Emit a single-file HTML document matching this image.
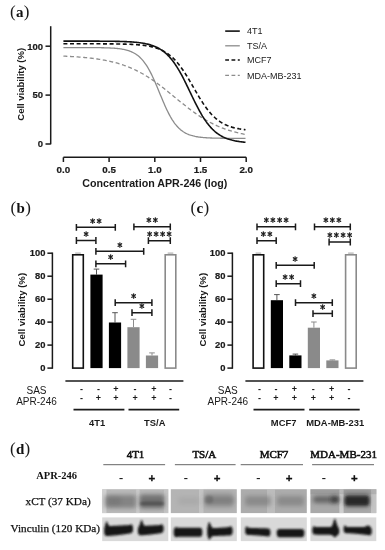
<!DOCTYPE html><html><head><meta charset="utf-8"><title>Figure</title><style>
html,body{margin:0;padding:0;background:#fff;overflow:hidden}svg{display:block}
.s{font-family:"Liberation Sans",Arial,sans-serif}.r{font-family:"Liberation Serif","Times New Roman",serif}
</style></head><body>
<svg width="385" height="550" viewBox="0 0 385 550">
<rect width="385" height="550" fill="#fff"/>
<text class="r" x="10.0" y="17.2" font-size="17" fill="#1a1a1a">(<tspan font-size="15" font-weight="bold" fill="#111" dx="0.3">a</tspan><tspan dx="0.3">)</tspan></text>
<g stroke="#1a1a1a" stroke-width="1.5" fill="none">
<path d="M50.7 26.2V144.3"/>
<path d="M45.5 46.2H50.7"/>
<path d="M45.5 95.1H50.7"/>
<path d="M45.5 144.0H50.7"/>
<path d="M63.4 157.3H246.2"/>
<path d="M63.4 157.3V162"/>
<path d="M109.1 157.3V162"/>
<path d="M154.8 157.3V162"/>
<path d="M200.5 157.3V162"/>
<path d="M246.2 157.3V162"/>
</g>
<g class="s" font-size="9.5" font-weight="bold" fill="#1a1a1a" stroke="#1a1a1a" stroke-width="0.2" text-anchor="end">
<text x="43.1" y="49.5">100</text>
<text x="43.1" y="98.4">50</text>
<text x="43.1" y="147.3">0</text>
</g>
<g class="s" font-size="9.8" font-weight="bold" fill="#1a1a1a" stroke="#1a1a1a" stroke-width="0.2" text-anchor="middle">
<text x="63.4" y="173.2">0.0</text>
<text x="109.1" y="173.2">0.5</text>
<text x="154.8" y="173.2">1.0</text>
<text x="200.5" y="173.2">1.5</text>
<text x="246.2" y="173.2">2.0</text>
</g>
<text class="s" x="154.8" y="187.4" font-size="10.7" font-weight="bold" fill="#1a1a1a" text-anchor="middle">Concentration APR-246 (log)</text>
<text class="s" transform="translate(24.4 84.3) rotate(-90)" font-size="9.5" font-weight="bold" fill="#1a1a1a" text-anchor="middle">Cell viability (%)</text>
<path d="M63.40 56.14 L64.32 56.18 L65.23 56.22 L66.15 56.26 L67.06 56.31 L67.98 56.35 L68.89 56.40 L69.81 56.45 L70.72 56.50 L71.64 56.55 L72.55 56.60 L73.47 56.66 L74.38 56.71 L75.30 56.77 L76.21 56.83 L77.13 56.90 L78.04 56.96 L78.96 57.03 L79.87 57.10 L80.79 57.17 L81.70 57.25 L82.62 57.33 L83.53 57.41 L84.45 57.49 L85.36 57.58 L86.28 57.66 L87.19 57.76 L88.11 57.85 L89.02 57.95 L89.94 58.05 L90.85 58.16 L91.77 58.26 L92.68 58.38 L93.60 58.49 L94.51 58.61 L95.43 58.73 L96.34 58.86 L97.26 58.99 L98.17 59.13 L99.09 59.27 L100.00 59.41 L100.92 59.56 L101.83 59.72 L102.75 59.88 L103.66 60.04 L104.58 60.21 L105.49 60.39 L106.41 60.57 L107.32 60.76 L108.24 60.95 L109.15 61.15 L110.07 61.35 L110.98 61.56 L111.90 61.78 L112.81 62.00 L113.73 62.23 L114.64 62.47 L115.56 62.71 L116.47 62.96 L117.39 63.22 L118.30 63.49 L119.22 63.76 L120.13 64.05 L121.05 64.34 L121.96 64.63 L122.88 64.94 L123.79 65.25 L124.71 65.58 L125.63 65.91 L126.54 66.25 L127.46 66.60 L128.37 66.96 L129.29 67.33 L130.20 67.71 L131.12 68.09 L132.03 68.49 L132.95 68.90 L133.86 69.31 L134.78 69.74 L135.69 70.18 L136.61 70.62 L137.52 71.08 L138.44 71.55 L139.35 72.02 L140.27 72.51 L141.18 73.01 L142.10 73.52 L143.01 74.04 L143.93 74.56 L144.84 75.10 L145.76 75.65 L146.67 76.21 L147.59 76.78 L148.50 77.36 L149.42 77.95 L150.33 78.54 L151.25 79.15 L152.16 79.77 L153.08 80.40 L153.99 81.03 L154.91 81.68 L155.82 82.33 L156.74 82.99 L157.65 83.66 L158.57 84.33 L159.48 85.02 L160.40 85.71 L161.31 86.41 L162.23 87.11 L163.14 87.82 L164.06 88.54 L164.97 89.26 L165.89 89.98 L166.80 90.71 L167.72 91.45 L168.63 92.19 L169.55 92.93 L170.46 93.67 L171.38 94.42 L172.29 95.17 L173.21 95.92 L174.12 96.67 L175.04 97.42 L175.95 98.17 L176.87 98.92 L177.78 99.67 L178.70 100.42 L179.61 101.16 L180.53 101.91 L181.44 102.65 L182.36 103.38 L183.27 104.12 L184.19 104.85 L185.11 105.57 L186.02 106.29 L186.94 107.00 L187.85 107.71 L188.77 108.42 L189.68 109.11 L190.60 109.80 L191.51 110.48 L192.43 111.16 L193.34 111.82 L194.26 112.48 L195.17 113.13 L196.09 113.77 L197.00 114.40 L197.92 115.03 L198.83 115.64 L199.75 116.25 L200.66 116.84 L201.58 117.43 L202.49 118.00 L203.41 118.57 L204.32 119.12 L205.24 119.67 L206.15 120.20 L207.07 120.73 L207.98 121.24 L208.90 121.75 L209.81 122.24 L210.73 122.73 L211.64 123.20 L212.56 123.67 L213.47 124.12 L214.39 124.56 L215.30 125.00 L216.22 125.42 L217.13 125.83 L218.05 126.24 L218.96 126.63 L219.88 127.01 L220.79 127.39 L221.71 127.75 L222.62 128.11 L223.54 128.46 L224.45 128.80 L225.37 129.13 L226.28 129.45 L227.20 129.76 L228.11 130.06 L229.03 130.36 L229.94 130.64 L230.86 130.92 L231.77 131.20 L232.69 131.46 L233.60 131.72 L234.52 131.97 L235.43 132.21 L236.35 132.44 L237.26 132.67 L238.18 132.89 L239.09 133.11 L240.01 133.32 L240.92 133.52 L241.84 133.71 L242.75 133.90 L243.67 134.09 L244.58 134.27 L245.50 134.44" fill="none" stroke="#8c8c8c" stroke-width="1.3" stroke-dasharray="4 2.6"/>
<path d="M63.40 47.54 L64.32 47.54 L65.23 47.54 L66.15 47.54 L67.06 47.54 L67.98 47.55 L68.89 47.55 L69.81 47.55 L70.72 47.55 L71.64 47.55 L72.55 47.55 L73.47 47.55 L74.38 47.55 L75.30 47.55 L76.21 47.55 L77.13 47.55 L78.04 47.56 L78.96 47.56 L79.87 47.56 L80.79 47.56 L81.70 47.56 L82.62 47.56 L83.53 47.57 L84.45 47.57 L85.36 47.57 L86.28 47.58 L87.19 47.58 L88.11 47.58 L89.02 47.59 L89.94 47.59 L90.85 47.60 L91.77 47.60 L92.68 47.61 L93.60 47.62 L94.51 47.63 L95.43 47.63 L96.34 47.64 L97.26 47.65 L98.17 47.67 L99.09 47.68 L100.00 47.69 L100.92 47.71 L101.83 47.73 L102.75 47.75 L103.66 47.77 L104.58 47.79 L105.49 47.81 L106.41 47.84 L107.32 47.87 L108.24 47.91 L109.15 47.95 L110.07 47.99 L110.98 48.03 L111.90 48.08 L112.81 48.14 L113.73 48.20 L114.64 48.27 L115.56 48.34 L116.47 48.42 L117.39 48.52 L118.30 48.61 L119.22 48.72 L120.13 48.84 L121.05 48.98 L121.96 49.12 L122.88 49.28 L123.79 49.46 L124.71 49.65 L125.63 49.86 L126.54 50.09 L127.46 50.35 L128.37 50.63 L129.29 50.93 L130.20 51.27 L131.12 51.64 L132.03 52.04 L132.95 52.48 L133.86 52.95 L134.78 53.48 L135.69 54.04 L136.61 54.66 L137.52 55.33 L138.44 56.06 L139.35 56.85 L140.27 57.70 L141.18 58.62 L142.10 59.61 L143.01 60.67 L143.93 61.81 L144.84 63.03 L145.76 64.33 L146.67 65.72 L147.59 67.19 L148.50 68.74 L149.42 70.37 L150.33 72.09 L151.25 73.89 L152.16 75.76 L153.08 77.70 L153.99 79.71 L154.91 81.77 L155.82 83.89 L156.74 86.05 L157.65 88.24 L158.57 90.45 L159.48 92.67 L160.40 94.90 L161.31 97.12 L162.23 99.31 L163.14 101.48 L164.06 103.61 L164.97 105.69 L165.89 107.71 L166.80 109.67 L167.72 111.56 L168.63 113.37 L169.55 115.11 L170.46 116.76 L171.38 118.34 L172.29 119.83 L173.21 121.23 L174.12 122.55 L175.04 123.79 L175.95 124.95 L176.87 126.03 L177.78 127.04 L178.70 127.98 L179.61 128.85 L180.53 129.65 L181.44 130.39 L182.36 131.08 L183.27 131.71 L184.19 132.29 L185.11 132.82 L186.02 133.31 L186.94 133.76 L187.85 134.17 L188.77 134.54 L189.68 134.88 L190.60 135.20 L191.51 135.48 L192.43 135.74 L193.34 135.98 L194.26 136.20 L195.17 136.40 L196.09 136.58 L197.00 136.74 L197.92 136.89 L198.83 137.02 L199.75 137.15 L200.66 137.26 L201.58 137.36 L202.49 137.45 L203.41 137.54 L204.32 137.61 L205.24 137.68 L206.15 137.74 L207.07 137.80 L207.98 137.85 L208.90 137.90 L209.81 137.94 L210.73 137.98 L211.64 138.02 L212.56 138.05 L213.47 138.08 L214.39 138.10 L215.30 138.13 L216.22 138.15 L217.13 138.17 L218.05 138.19 L218.96 138.20 L219.88 138.22 L220.79 138.23 L221.71 138.24 L222.62 138.25 L223.54 138.26 L224.45 138.27 L225.37 138.28 L226.28 138.29 L227.20 138.29 L228.11 138.30 L229.03 138.30 L229.94 138.31 L230.86 138.31 L231.77 138.32 L232.69 138.32 L233.60 138.33 L234.52 138.33 L235.43 138.33 L236.35 138.33 L237.26 138.34 L238.18 138.34 L239.09 138.34 L240.01 138.34 L240.92 138.34 L241.84 138.34 L242.75 138.35 L243.67 138.35 L244.58 138.35 L245.50 138.35" fill="none" stroke="#8c8c8c" stroke-width="1.3"/>
<path d="M63.40 43.77 L64.32 43.77 L65.23 43.77 L66.15 43.77 L67.06 43.77 L67.98 43.77 L68.89 43.77 L69.81 43.77 L70.72 43.77 L71.64 43.77 L72.55 43.77 L73.47 43.77 L74.38 43.78 L75.30 43.78 L76.21 43.78 L77.13 43.78 L78.04 43.78 L78.96 43.78 L79.87 43.78 L80.79 43.78 L81.70 43.78 L82.62 43.78 L83.53 43.78 L84.45 43.78 L85.36 43.78 L86.28 43.79 L87.19 43.79 L88.11 43.79 L89.02 43.79 L89.94 43.79 L90.85 43.79 L91.77 43.79 L92.68 43.80 L93.60 43.80 L94.51 43.80 L95.43 43.80 L96.34 43.81 L97.26 43.81 L98.17 43.81 L99.09 43.82 L100.00 43.82 L100.92 43.82 L101.83 43.83 L102.75 43.83 L103.66 43.84 L104.58 43.84 L105.49 43.85 L106.41 43.85 L107.32 43.86 L108.24 43.87 L109.15 43.87 L110.07 43.88 L110.98 43.89 L111.90 43.90 L112.81 43.91 L113.73 43.92 L114.64 43.93 L115.56 43.94 L116.47 43.96 L117.39 43.97 L118.30 43.98 L119.22 44.00 L120.13 44.02 L121.05 44.04 L121.96 44.06 L122.88 44.08 L123.79 44.10 L124.71 44.13 L125.63 44.15 L126.54 44.18 L127.46 44.22 L128.37 44.25 L129.29 44.28 L130.20 44.32 L131.12 44.37 L132.03 44.41 L132.95 44.46 L133.86 44.51 L134.78 44.57 L135.69 44.63 L136.61 44.69 L137.52 44.76 L138.44 44.83 L139.35 44.91 L140.27 45.00 L141.18 45.09 L142.10 45.19 L143.01 45.29 L143.93 45.41 L144.84 45.53 L145.76 45.66 L146.67 45.80 L147.59 45.95 L148.50 46.11 L149.42 46.28 L150.33 46.47 L151.25 46.67 L152.16 46.88 L153.08 47.10 L153.99 47.35 L154.91 47.61 L155.82 47.88 L156.74 48.18 L157.65 48.50 L158.57 48.83 L159.48 49.19 L160.40 49.58 L161.31 49.99 L162.23 50.42 L163.14 50.88 L164.06 51.37 L164.97 51.90 L165.89 52.45 L166.80 53.04 L167.72 53.66 L168.63 54.32 L169.55 55.02 L170.46 55.75 L171.38 56.53 L172.29 57.35 L173.21 58.20 L174.12 59.11 L175.04 60.05 L175.95 61.04 L176.87 62.07 L177.78 63.15 L178.70 64.28 L179.61 65.44 L180.53 66.66 L181.44 67.91 L182.36 69.21 L183.27 70.54 L184.19 71.92 L185.11 73.33 L186.02 74.77 L186.94 76.24 L187.85 77.75 L188.77 79.27 L189.68 80.82 L190.60 82.39 L191.51 83.97 L192.43 85.55 L193.34 87.14 L194.26 88.74 L195.17 90.33 L196.09 91.91 L197.00 93.48 L197.92 95.03 L198.83 96.57 L199.75 98.08 L200.66 99.56 L201.58 101.02 L202.49 102.44 L203.41 103.82 L204.32 105.17 L205.24 106.48 L206.15 107.75 L207.07 108.98 L207.98 110.16 L208.90 111.30 L209.81 112.39 L210.73 113.44 L211.64 114.44 L212.56 115.40 L213.47 116.32 L214.39 117.19 L215.30 118.02 L216.22 118.81 L217.13 119.56 L218.05 120.27 L218.96 120.94 L219.88 121.57 L220.79 122.17 L221.71 122.74 L222.62 123.27 L223.54 123.77 L224.45 124.24 L225.37 124.69 L226.28 125.10 L227.20 125.50 L228.11 125.86 L229.03 126.21 L229.94 126.53 L230.86 126.83 L231.77 127.12 L232.69 127.38 L233.60 127.63 L234.52 127.86 L235.43 128.08 L236.35 128.28 L237.26 128.47 L238.18 128.64 L239.09 128.81 L240.01 128.96 L240.92 129.11 L241.84 129.24 L242.75 129.36 L243.67 129.48 L244.58 129.59 L245.50 129.69" fill="none" stroke="#111" stroke-width="1.6" stroke-dasharray="4 2.6"/>
<path d="M63.40 41.12 L64.32 41.12 L65.23 41.12 L66.15 41.12 L67.06 41.12 L67.98 41.12 L68.89 41.12 L69.81 41.12 L70.72 41.12 L71.64 41.12 L72.55 41.12 L73.47 41.12 L74.38 41.12 L75.30 41.12 L76.21 41.12 L77.13 41.12 L78.04 41.12 L78.96 41.12 L79.87 41.12 L80.79 41.13 L81.70 41.13 L82.62 41.13 L83.53 41.13 L84.45 41.13 L85.36 41.13 L86.28 41.13 L87.19 41.13 L88.11 41.14 L89.02 41.14 L89.94 41.14 L90.85 41.14 L91.77 41.14 L92.68 41.15 L93.60 41.15 L94.51 41.15 L95.43 41.16 L96.34 41.16 L97.26 41.16 L98.17 41.17 L99.09 41.17 L100.00 41.18 L100.92 41.18 L101.83 41.19 L102.75 41.19 L103.66 41.20 L104.58 41.20 L105.49 41.21 L106.41 41.22 L107.32 41.23 L108.24 41.24 L109.15 41.25 L110.07 41.26 L110.98 41.27 L111.90 41.28 L112.81 41.29 L113.73 41.31 L114.64 41.32 L115.56 41.34 L116.47 41.36 L117.39 41.37 L118.30 41.40 L119.22 41.42 L120.13 41.44 L121.05 41.47 L121.96 41.49 L122.88 41.52 L123.79 41.56 L124.71 41.59 L125.63 41.63 L126.54 41.67 L127.46 41.71 L128.37 41.76 L129.29 41.81 L130.20 41.86 L131.12 41.92 L132.03 41.98 L132.95 42.05 L133.86 42.12 L134.78 42.19 L135.69 42.28 L136.61 42.37 L137.52 42.46 L138.44 42.57 L139.35 42.68 L140.27 42.80 L141.18 42.93 L142.10 43.07 L143.01 43.22 L143.93 43.38 L144.84 43.55 L145.76 43.73 L146.67 43.93 L147.59 44.15 L148.50 44.37 L149.42 44.62 L150.33 44.88 L151.25 45.17 L152.16 45.47 L153.08 45.79 L153.99 46.14 L154.91 46.51 L155.82 46.90 L156.74 47.33 L157.65 47.78 L158.57 48.26 L159.48 48.78 L160.40 49.33 L161.31 49.91 L162.23 50.53 L163.14 51.19 L164.06 51.90 L164.97 52.64 L165.89 53.43 L166.80 54.27 L167.72 55.15 L168.63 56.08 L169.55 57.07 L170.46 58.10 L171.38 59.19 L172.29 60.34 L173.21 61.53 L174.12 62.79 L175.04 64.09 L175.95 65.46 L176.87 66.88 L177.78 68.35 L178.70 69.87 L179.61 71.45 L180.53 73.07 L181.44 74.74 L182.36 76.45 L183.27 78.21 L184.19 80.00 L185.11 81.82 L186.02 83.67 L186.94 85.54 L187.85 87.43 L188.77 89.34 L189.68 91.25 L190.60 93.17 L191.51 95.08 L192.43 96.99 L193.34 98.88 L194.26 100.76 L195.17 102.61 L196.09 104.43 L197.00 106.22 L197.92 107.97 L198.83 109.69 L199.75 111.36 L200.66 112.98 L201.58 114.56 L202.49 116.09 L203.41 117.56 L204.32 118.98 L205.24 120.34 L206.15 121.65 L207.07 122.91 L207.98 124.10 L208.90 125.25 L209.81 126.34 L210.73 127.38 L211.64 128.36 L212.56 129.30 L213.47 130.18 L214.39 131.02 L215.30 131.81 L216.22 132.55 L217.13 133.26 L218.05 133.92 L218.96 134.54 L219.88 135.13 L220.79 135.68 L221.71 136.19 L222.62 136.68 L223.54 137.13 L224.45 137.55 L225.37 137.95 L226.28 138.32 L227.20 138.67 L228.11 138.99 L229.03 139.30 L229.94 139.58 L230.86 139.84 L231.77 140.09 L232.69 140.32 L233.60 140.53 L234.52 140.73 L235.43 140.91 L236.35 141.09 L237.26 141.25 L238.18 141.40 L239.09 141.54 L240.01 141.67 L240.92 141.79 L241.84 141.90 L242.75 142.00 L243.67 142.10 L244.58 142.19 L245.50 142.27" fill="none" stroke="#111" stroke-width="1.6"/>
<path d="M225.2 31.1H239.8" stroke="#111" stroke-width="1.6"/>
<text class="s" x="247" y="34.4" font-size="9" fill="#1a1a1a">4T1</text>
<path d="M225.2 45.8H239.8" stroke="#8c8c8c" stroke-width="1.3"/>
<text class="s" x="247" y="49.1" font-size="9" fill="#1a1a1a">TS/A</text>
<path d="M225.2 60.0H239.8" stroke="#111" stroke-width="1.6" stroke-dasharray="3.8 2.5"/>
<text class="s" x="247" y="63.3" font-size="9" fill="#1a1a1a">MCF7</text>
<path d="M225.2 75.3H239.8" stroke="#8c8c8c" stroke-width="1.3" stroke-dasharray="3.8 2.5"/>
<text class="s" x="247" y="78.6" font-size="9" fill="#1a1a1a">MDA-MB-231</text>
<text class="r" x="10.6" y="213.4" font-size="17" fill="#1a1a1a">(<tspan font-size="15" font-weight="bold" fill="#111" dx="0.3">b</tspan><tspan dx="0.3">)</tspan></text>
<g stroke="#1a1a1a" stroke-width="1.5" fill="none"><path d="M52.4 252.5V368.8"/>
<path d="M47.4 368.1H52.4"/>
<path d="M47.4 345.1H52.4"/>
<path d="M47.4 322.1H52.4"/>
<path d="M47.4 299.2H52.4"/>
<path d="M47.4 276.2H52.4"/>
<path d="M47.4 253.2H52.4"/>
</g>
<g class="s" font-size="9.4" font-weight="bold" fill="#1a1a1a" stroke="#1a1a1a" stroke-width="0.2" text-anchor="end">
<text x="45.5" y="370.8">0</text>
<text x="45.5" y="347.8">20</text>
<text x="45.5" y="324.8">40</text>
<text x="45.5" y="301.9">60</text>
<text x="45.5" y="278.9">80</text>
<text x="45.5" y="255.9">100</text>
</g>
<text class="s" transform="translate(25.3 309.7) rotate(-90)" font-size="9.6" font-weight="bold" fill="#1a1a1a" text-anchor="middle">Cell viability (%)</text>
<path d="M75.2 253.1H80.8" stroke="#999" stroke-width="0.9" fill="none"/>
<rect x="72.7" y="254.8" width="10.6" height="113.3" fill="#fff" stroke="#111" stroke-width="1.6"/>
<path d="M96.5 274.6V269.1M93.7 269.1H99.3" stroke="#555" stroke-width="1" fill="none"/>
<rect x="90.4" y="274.6" width="12.2" height="93.5" fill="#000"/>
<path d="M115.0 322.5V312.7M112.2 312.7H117.8" stroke="#555" stroke-width="1" fill="none"/>
<rect x="108.9" y="322.5" width="12.2" height="45.6" fill="#000"/>
<path d="M133.5 327.2V319.3M130.7 319.3H136.3" stroke="#8c8c8c" stroke-width="1" fill="none"/>
<rect x="127.4" y="327.2" width="12.2" height="40.9" fill="#8a8a8a"/>
<path d="M152.0 355.5V352.9M149.2 352.9H154.8" stroke="#8c8c8c" stroke-width="1" fill="none"/>
<rect x="145.9" y="355.5" width="12.2" height="12.6" fill="#8a8a8a"/>
<path d="M167.7 253.1H173.3" stroke="#999" stroke-width="0.9" fill="none"/>
<rect x="165.2" y="254.8" width="10.6" height="113.3" fill="#fff" stroke="#8a8a8a" stroke-width="1.6"/>
<path d="M76.4 227.3H115.3M76.4 223.9V230.70000000000002M115.3 223.9V230.70000000000002" stroke="#1a1a1a" stroke-width="1.5" fill="none"/>
<text x="96.5" y="224.5" font-family="IPAGothic, sans-serif" font-size="10.5" font-weight="bold" fill="#1a1a1a" text-anchor="middle" letter-spacing="1.3">**</text>
<path d="M76.4 240.5H95.9M76.4 237.1V243.9M95.9 237.1V243.9" stroke="#1a1a1a" stroke-width="1.5" fill="none"/>
<text x="86.8" y="237.7" font-family="IPAGothic, sans-serif" font-size="10.5" font-weight="bold" fill="#1a1a1a" text-anchor="middle" letter-spacing="1.3">*</text>
<path d="M95.9 251.3H143.7M95.9 247.9V254.70000000000002M143.7 247.9V254.70000000000002" stroke="#1a1a1a" stroke-width="1.5" fill="none"/>
<text x="120.5" y="248.5" font-family="IPAGothic, sans-serif" font-size="10.5" font-weight="bold" fill="#1a1a1a" text-anchor="middle" letter-spacing="1.3">*</text>
<path d="M95.9 263.8H125.6M95.9 260.40000000000003V267.2M125.6 260.40000000000003V267.2" stroke="#1a1a1a" stroke-width="1.5" fill="none"/>
<text x="111.4" y="261.0" font-family="IPAGothic, sans-serif" font-size="10.5" font-weight="bold" fill="#1a1a1a" text-anchor="middle" letter-spacing="1.3">*</text>
<path d="M133.9 226.8H170.3M133.9 223.4V230.20000000000002M170.3 223.4V230.20000000000002" stroke="#1a1a1a" stroke-width="1.5" fill="none"/>
<text x="152.8" y="224.0" font-family="IPAGothic, sans-serif" font-size="10.5" font-weight="bold" fill="#1a1a1a" text-anchor="middle" letter-spacing="1.3">**</text>
<path d="M148.4 240.7H170.3M148.4 237.29999999999998V244.1M170.3 237.29999999999998V244.1" stroke="#1a1a1a" stroke-width="1.5" fill="none"/>
<text x="160.0" y="237.9" font-family="IPAGothic, sans-serif" font-size="10.5" font-weight="bold" fill="#1a1a1a" text-anchor="middle" letter-spacing="1.3">****</text>
<path d="M115.2 302.7H151.9M115.2 299.3V306.09999999999997M151.9 299.3V306.09999999999997" stroke="#1a1a1a" stroke-width="1.5" fill="none"/>
<text x="134.2" y="299.9" font-family="IPAGothic, sans-serif" font-size="10.5" font-weight="bold" fill="#1a1a1a" text-anchor="middle" letter-spacing="1.3">*</text>
<path d="M132 312.7H151.9M132 309.3V316.09999999999997M151.9 309.3V316.09999999999997" stroke="#1a1a1a" stroke-width="1.5" fill="none"/>
<text x="142.6" y="309.9" font-family="IPAGothic, sans-serif" font-size="10.5" font-weight="bold" fill="#1a1a1a" text-anchor="middle" letter-spacing="1.3">*</text>
<path d="M65.4 381H183.4" stroke="#1a1a1a" stroke-width="1.6"/>
<text class="s" x="36.5" y="393.6" font-size="10" fill="#1a1a1a" text-anchor="middle">SAS</text>
<text class="s" x="36.5" y="405" font-size="10" fill="#1a1a1a" text-anchor="middle">APR-246</text>
<text class="s" x="81.5" y="392.4" font-size="9" font-weight="bold" fill="#1a1a1a" text-anchor="middle">-</text>
<text class="s" x="81.5" y="401" font-size="9" font-weight="bold" fill="#1a1a1a" text-anchor="middle">-</text>
<text class="s" x="98.4" y="392.4" font-size="9" font-weight="bold" fill="#1a1a1a" text-anchor="middle">-</text>
<text class="s" x="98.4" y="401" font-size="9" font-weight="bold" fill="#1a1a1a" text-anchor="middle">+</text>
<text class="s" x="115.8" y="392.4" font-size="9" font-weight="bold" fill="#1a1a1a" text-anchor="middle">+</text>
<text class="s" x="115.8" y="401" font-size="9" font-weight="bold" fill="#1a1a1a" text-anchor="middle">+</text>
<text class="s" x="135.1" y="392.4" font-size="9" font-weight="bold" fill="#1a1a1a" text-anchor="middle">-</text>
<text class="s" x="135.1" y="401" font-size="9" font-weight="bold" fill="#1a1a1a" text-anchor="middle">+</text>
<text class="s" x="153.8" y="392.4" font-size="9" font-weight="bold" fill="#1a1a1a" text-anchor="middle">+</text>
<text class="s" x="153.8" y="401" font-size="9" font-weight="bold" fill="#1a1a1a" text-anchor="middle">+</text>
<text class="s" x="170.4" y="392.4" font-size="9" font-weight="bold" fill="#1a1a1a" text-anchor="middle">-</text>
<text class="s" x="170.4" y="401" font-size="9" font-weight="bold" fill="#1a1a1a" text-anchor="middle">-</text>
<path d="M73.5 409.6H124.4" stroke="#1a1a1a" stroke-width="1.6"/>
<text class="s" x="97.2" y="426.3" font-size="9.4" font-weight="bold" fill="#1a1a1a" text-anchor="middle">4T1</text>
<path d="M128.5 409.6H179.2" stroke="#1a1a1a" stroke-width="1.6"/>
<text class="s" x="154.8" y="426.3" font-size="9.4" font-weight="bold" fill="#1a1a1a" text-anchor="middle">TS/A</text>
<text class="r" x="190.6" y="213.4" font-size="17" fill="#1a1a1a">(<tspan font-size="15" font-weight="bold" fill="#111" dx="0.3">c</tspan><tspan dx="0.3">)</tspan></text>
<g stroke="#1a1a1a" stroke-width="1.5" fill="none"><path d="M232.4 252.5V368.8"/>
<path d="M227.4 368.1H232.4"/>
<path d="M227.4 345.1H232.4"/>
<path d="M227.4 322.1H232.4"/>
<path d="M227.4 299.2H232.4"/>
<path d="M227.4 276.2H232.4"/>
<path d="M227.4 253.2H232.4"/>
</g>
<g class="s" font-size="9.4" font-weight="bold" fill="#1a1a1a" stroke="#1a1a1a" stroke-width="0.2" text-anchor="end">
<text x="225.5" y="370.8">0</text>
<text x="225.5" y="347.8">20</text>
<text x="225.5" y="324.8">40</text>
<text x="225.5" y="301.9">60</text>
<text x="225.5" y="278.9">80</text>
<text x="225.5" y="255.9">100</text>
</g>
<text class="s" transform="translate(206.2 309.7) rotate(-90)" font-size="9.6" font-weight="bold" fill="#1a1a1a" text-anchor="middle">Cell viability (%)</text>
<path d="M255.6 253.1H261.2" stroke="#999" stroke-width="0.9" fill="none"/>
<rect x="253.1" y="254.8" width="10.6" height="113.3" fill="#fff" stroke="#111" stroke-width="1.6"/>
<path d="M276.9 300.2V294.6M274.1 294.6H279.7" stroke="#555" stroke-width="1" fill="none"/>
<rect x="270.8" y="300.2" width="12.2" height="67.9" fill="#000"/>
<path d="M295.4 355.4V354.1M292.6 354.1H298.2" stroke="#555" stroke-width="1" fill="none"/>
<rect x="289.3" y="355.4" width="12.2" height="12.7" fill="#000"/>
<path d="M313.9 327.7V322.0M311.1 322.0H316.7" stroke="#8c8c8c" stroke-width="1" fill="none"/>
<rect x="307.8" y="327.7" width="12.2" height="40.4" fill="#8a8a8a"/>
<path d="M332.4 360.4V359.9M329.6 359.9H335.2" stroke="#8c8c8c" stroke-width="1" fill="none"/>
<rect x="326.3" y="360.4" width="12.2" height="7.7" fill="#8a8a8a"/>
<path d="M348.1 253.1H353.7" stroke="#999" stroke-width="0.9" fill="none"/>
<rect x="345.6" y="254.8" width="10.6" height="113.3" fill="#fff" stroke="#8a8a8a" stroke-width="1.6"/>
<path d="M257 226.8H295.5M257 223.4V230.20000000000002M295.5 223.4V230.20000000000002" stroke="#1a1a1a" stroke-width="1.5" fill="none"/>
<text x="276.9" y="224.0" font-family="IPAGothic, sans-serif" font-size="10.5" font-weight="bold" fill="#1a1a1a" text-anchor="middle" letter-spacing="1.3">****</text>
<path d="M257 240.7H276.2M257 237.29999999999998V244.1M276.2 237.29999999999998V244.1" stroke="#1a1a1a" stroke-width="1.5" fill="none"/>
<text x="267.2" y="237.9" font-family="IPAGothic, sans-serif" font-size="10.5" font-weight="bold" fill="#1a1a1a" text-anchor="middle" letter-spacing="1.3">**</text>
<path d="M276.2 265.3H314.2M276.2 261.90000000000003V268.7M314.2 261.90000000000003V268.7" stroke="#1a1a1a" stroke-width="1.5" fill="none"/>
<text x="295.8" y="262.5" font-family="IPAGothic, sans-serif" font-size="10.5" font-weight="bold" fill="#1a1a1a" text-anchor="middle" letter-spacing="1.3">*</text>
<path d="M276.2 283.7H300.5M276.2 280.3V287.09999999999997M300.5 280.3V287.09999999999997" stroke="#1a1a1a" stroke-width="1.5" fill="none"/>
<text x="289.0" y="280.9" font-family="IPAGothic, sans-serif" font-size="10.5" font-weight="bold" fill="#1a1a1a" text-anchor="middle" letter-spacing="1.3">**</text>
<path d="M314.5 226.8H350.3M314.5 223.4V230.20000000000002M350.3 223.4V230.20000000000002" stroke="#1a1a1a" stroke-width="1.5" fill="none"/>
<text x="333.0" y="224.0" font-family="IPAGothic, sans-serif" font-size="10.5" font-weight="bold" fill="#1a1a1a" text-anchor="middle" letter-spacing="1.3">***</text>
<path d="M329.1 242H350.3M329.1 238.6V245.4M350.3 238.6V245.4" stroke="#1a1a1a" stroke-width="1.5" fill="none"/>
<text x="340.4" y="239.2" font-family="IPAGothic, sans-serif" font-size="10.5" font-weight="bold" fill="#1a1a1a" text-anchor="middle" letter-spacing="1.3">****</text>
<path d="M295.5 302.7H332.3M295.5 299.3V306.09999999999997M332.3 299.3V306.09999999999997" stroke="#1a1a1a" stroke-width="1.5" fill="none"/>
<text x="314.5" y="299.9" font-family="IPAGothic, sans-serif" font-size="10.5" font-weight="bold" fill="#1a1a1a" text-anchor="middle" letter-spacing="1.3">*</text>
<path d="M313 313.6H332.3M313 310.20000000000005V317.0M332.3 310.20000000000005V317.0" stroke="#1a1a1a" stroke-width="1.5" fill="none"/>
<text x="323.3" y="310.8" font-family="IPAGothic, sans-serif" font-size="10.5" font-weight="bold" fill="#1a1a1a" text-anchor="middle" letter-spacing="1.3">*</text>
<path d="M245.4 381H363.4" stroke="#1a1a1a" stroke-width="1.6"/>
<text class="s" x="227.8" y="393.6" font-size="10" fill="#1a1a1a" text-anchor="middle">SAS</text>
<text class="s" x="227.8" y="405" font-size="10" fill="#1a1a1a" text-anchor="middle">APR-246</text>
<text class="s" x="259.4" y="392.4" font-size="9" font-weight="bold" fill="#1a1a1a" text-anchor="middle">-</text>
<text class="s" x="259.4" y="401" font-size="9" font-weight="bold" fill="#1a1a1a" text-anchor="middle">-</text>
<text class="s" x="275.9" y="392.4" font-size="9" font-weight="bold" fill="#1a1a1a" text-anchor="middle">-</text>
<text class="s" x="275.9" y="401" font-size="9" font-weight="bold" fill="#1a1a1a" text-anchor="middle">+</text>
<text class="s" x="294.3" y="392.4" font-size="9" font-weight="bold" fill="#1a1a1a" text-anchor="middle">+</text>
<text class="s" x="294.3" y="401" font-size="9" font-weight="bold" fill="#1a1a1a" text-anchor="middle">+</text>
<text class="s" x="313.3" y="392.4" font-size="9" font-weight="bold" fill="#1a1a1a" text-anchor="middle">-</text>
<text class="s" x="313.3" y="401" font-size="9" font-weight="bold" fill="#1a1a1a" text-anchor="middle">+</text>
<text class="s" x="331.7" y="392.4" font-size="9" font-weight="bold" fill="#1a1a1a" text-anchor="middle">+</text>
<text class="s" x="331.7" y="401" font-size="9" font-weight="bold" fill="#1a1a1a" text-anchor="middle">+</text>
<text class="s" x="349.1" y="392.4" font-size="9" font-weight="bold" fill="#1a1a1a" text-anchor="middle">-</text>
<text class="s" x="349.1" y="401" font-size="9" font-weight="bold" fill="#1a1a1a" text-anchor="middle">-</text>
<path d="M253.5 409.6H304.5" stroke="#1a1a1a" stroke-width="1.6"/>
<text class="s" x="283.6" y="426.3" font-size="9.4" font-weight="bold" fill="#1a1a1a" text-anchor="middle">MCF7</text>
<path d="M309.2 409.6H359.7" stroke="#1a1a1a" stroke-width="1.6"/>
<text class="s" x="335.2" y="426.3" font-size="9.4" font-weight="bold" fill="#1a1a1a" text-anchor="middle">MDA-MB-231</text>
<text class="r" x="10.0" y="454.1" font-size="17" fill="#1a1a1a">(<tspan font-size="15" font-weight="bold" fill="#111" dx="0.3">d</tspan><tspan dx="0.3">)</tspan></text>
<text class="r" x="135.5" y="458.4" font-size="11" fill="#111" stroke="#111" stroke-width="0.55" text-anchor="middle">4T1</text>
<path d="M103.3 464.7H165.1" stroke="#555" stroke-width="0.9"/>
<text class="r" x="204.3" y="458.4" font-size="11" fill="#111" stroke="#111" stroke-width="0.55" text-anchor="middle">TS/A</text>
<path d="M174.9 464.7H235.6" stroke="#555" stroke-width="0.9"/>
<text class="r" x="274" y="458.4" font-size="11" fill="#111" stroke="#111" stroke-width="0.55" text-anchor="middle">MCF7</text>
<path d="M240.7 464.7H303" stroke="#555" stroke-width="0.9"/>
<text class="r" x="343.6" y="458.4" font-size="11" fill="#111" stroke="#111" stroke-width="0.55" text-anchor="middle">MDA-MB-231</text>
<path d="M312.1 464.7H374" stroke="#555" stroke-width="0.9"/>
<text class="r" x="56.6" y="479.4" font-size="10.5" font-weight="bold" fill="#111" text-anchor="middle">APR-246</text>
<text class="r" x="121" y="482.2" font-size="12.5" font-weight="bold" fill="#111" text-anchor="middle">-</text>
<text class="s" x="151.79999999999998" y="482.4" font-size="11.5" font-weight="bold" fill="#111" stroke="#111" stroke-width="0.3" text-anchor="middle">+</text>
<text class="r" x="185.8" y="482.2" font-size="12.5" font-weight="bold" fill="#111" text-anchor="middle">-</text>
<text class="s" x="217.2" y="482.4" font-size="11.5" font-weight="bold" fill="#111" stroke="#111" stroke-width="0.3" text-anchor="middle">+</text>
<text class="r" x="258.4" y="482.2" font-size="12.5" font-weight="bold" fill="#111" text-anchor="middle">-</text>
<text class="s" x="289.2" y="482.4" font-size="11.5" font-weight="bold" fill="#111" stroke="#111" stroke-width="0.3" text-anchor="middle">+</text>
<text class="r" x="323.8" y="482.2" font-size="12.5" font-weight="bold" fill="#111" text-anchor="middle">-</text>
<text class="s" x="354.3" y="482.4" font-size="11.5" font-weight="bold" fill="#111" stroke="#111" stroke-width="0.3" text-anchor="middle">+</text>
<text class="r" x="58.1" y="505.2" font-size="11.2" fill="#111" stroke="#111" stroke-width="0.25" text-anchor="middle">xCT (37 KDa)</text>
<text class="r" x="55.3" y="531.6" font-size="11.2" fill="#111" stroke="#111" stroke-width="0.25" text-anchor="middle">Vinculin (120 KDa)</text>
<defs><filter id="bl" x="-30%" y="-80%" width="160%" height="260%"><feGaussianBlur stdDeviation="2"/></filter><filter id="bl5" x="-30%" y="-80%" width="160%" height="260%"><feGaussianBlur stdDeviation="1.7"/></filter><filter id="bl3" x="-30%" y="-80%" width="160%" height="260%"><feGaussianBlur stdDeviation="1.3"/></filter><filter id="bl2" x="-20%" y="-50%" width="140%" height="200%"><feGaussianBlur stdDeviation="0.55"/></filter><filter id="bl4" x="-20%" y="-50%" width="140%" height="200%"><feGaussianBlur stdDeviation="0.85"/></filter></defs>
<rect x="102.2" y="489.2" width="66.1" height="23.9" fill="#b9b9b9"/>
<rect x="170.8" y="489.2" width="66.0" height="23.9" fill="#b4b4b4"/>
<rect x="240.8" y="489.2" width="66.0" height="23.9" fill="#acacac"/>
<rect x="310.4" y="489.2" width="65.9" height="23.9" fill="#a9a9a9"/>
<rect x="102.2" y="517.4" width="66.1" height="23.7" fill="#d9d9d9"/>
<rect x="170.8" y="517.4" width="66.0" height="23.7" fill="#d9d9d9"/>
<rect x="240.8" y="517.4" width="66.0" height="23.7" fill="#d9d9d9"/>
<rect x="310.4" y="517.4" width="65.9" height="23.7" fill="#d9d9d9"/>
<rect x="102.2" y="489.2" width="4.3" height="23.9" fill="#d6d6d6" opacity="0.8" filter="url(#bl2)"/>
<rect x="136.2" y="489.2" width="3.4" height="23.9" fill="#d0d0d0" opacity="0.7" filter="url(#bl2)"/>
<rect x="164" y="489.2" width="4.3" height="23.9" fill="#cccccc" opacity="0.6" filter="url(#bl2)"/>
<rect x="199" y="489.2" width="4.5" height="23.9" fill="#d0d0d0" opacity="0.6" filter="url(#bl2)"/>
<rect x="267" y="489.2" width="8.0" height="23.9" fill="#c8c8c8" opacity="0.6" filter="url(#bl2)"/>
<rect x="339.4" y="489.2" width="4.2" height="23.9" fill="#d2d2d2" opacity="0.95" filter="url(#bl2)"/>
<rect x="371" y="489.2" width="5.3" height="23.9" fill="#d0d0d0" opacity="0.7" filter="url(#bl2)"/>
<rect x="310.4" y="489.2" width="66" height="5" fill="#888" opacity="0.3" filter="url(#bl2)"/>
<rect x="105" y="495.0" width="31.0" height="13" rx="3" fill="#707070" opacity="0.72" filter="url(#bl)"/>
<rect x="107" y="497.0" width="14.0" height="8" rx="3" fill="#606060" opacity="0.3" filter="url(#bl)"/>
<rect x="139.5" y="494.5" width="25.0" height="14" rx="3" fill="#5a5a5a" opacity="0.75" filter="url(#bl)"/>
<rect x="140" y="501.5" width="24.0" height="4" rx="3" fill="#333" opacity="0.45" filter="url(#bl3)"/>
<rect x="178" y="497.0" width="22.0" height="8" rx="3" fill="#959595" opacity="0.3" filter="url(#bl)"/>
<rect x="204" y="492.0" width="29.0" height="16" rx="3" fill="#8a8a8a" opacity="0.45" filter="url(#bl)"/>
<rect x="205" y="496.0" width="29.0" height="9" rx="3" fill="#666" opacity="0.55" filter="url(#bl)"/>
<rect x="205" y="495.5" width="8.0" height="8" rx="3" fill="#505050" opacity="0.35" filter="url(#bl3)"/>
<rect x="245" y="496.0" width="26.0" height="10" rx="3" fill="#767676" opacity="0.6" filter="url(#bl)"/>
<rect x="277" y="496.0" width="27.0" height="10" rx="3" fill="#767676" opacity="0.6" filter="url(#bl)"/>
<rect x="313" y="496.0" width="26.0" height="7" rx="3" fill="#4a4a4a" opacity="0.7" filter="url(#bl)"/>
<rect x="331" y="496.0" width="8.0" height="7" rx="3" fill="#1a1a1a" opacity="0.55" filter="url(#bl)"/>
<rect x="344" y="492.5" width="26.0" height="15" rx="3" fill="#444" opacity="0.4" filter="url(#bl)"/>
<rect x="344.8" y="495.8" width="24.4" height="10" rx="3" fill="#1a1a1a" opacity="0.88" filter="url(#bl5)"/>
<g fill="#161616" filter="url(#bl4)">
<path d="M104.20 528.77 L104.69 526.83 L105.18 524.94 L105.66 523.15 L106.15 521.81 L106.64 521.38 L107.13 521.85 L107.62 522.93 L108.11 524.13 L108.59 525.07 L109.08 525.63 L109.57 525.89 L110.06 525.97 L110.55 525.98 L111.03 525.97 L111.52 525.94 L112.01 525.92 L112.50 525.90 L112.99 525.87 L113.47 525.85 L113.96 525.83 L114.45 525.80 L114.94 525.78 L115.43 525.75 L115.92 525.73 L116.40 525.71 L116.89 525.68 L117.38 525.66 L117.87 525.64 L118.36 525.61 L118.84 525.59 L119.33 525.56 L119.82 525.54 L120.31 525.52 L120.80 525.49 L121.28 525.47 L121.77 525.45 L122.26 525.42 L122.75 525.40 L123.24 525.37 L123.73 525.35 L124.21 525.33 L124.70 525.30 L125.19 525.28 L125.68 525.26 L126.17 525.23 L126.65 525.21 L127.14 525.18 L127.63 525.16 L128.12 525.13 L128.61 525.09 L129.09 525.03 L129.58 524.91 L130.07 524.72 L130.56 524.48 L131.05 524.29 L131.54 524.38 L132.02 524.83 L132.51 525.68 L133.00 526.88 L133.00 530.63 L132.51 531.73 L132.02 532.48 L131.54 532.95 L131.05 533.22 L130.56 533.32 L130.07 533.40 L129.58 533.49 L129.09 533.57 L128.61 533.64 L128.12 533.72 L127.63 533.80 L127.14 533.88 L126.65 533.95 L126.17 534.03 L125.68 534.10 L125.19 534.17 L124.70 534.24 L124.21 534.31 L123.73 534.38 L123.24 534.45 L122.75 534.52 L122.26 534.58 L121.77 534.65 L121.28 534.71 L120.80 534.78 L120.31 534.84 L119.82 534.90 L119.33 534.96 L118.84 535.02 L118.36 535.07 L117.87 535.13 L117.38 535.18 L116.89 535.24 L116.40 535.29 L115.92 535.34 L115.43 535.39 L114.94 535.44 L114.45 535.49 L113.96 535.53 L113.47 535.58 L112.99 535.62 L112.50 535.66 L112.01 535.70 L111.52 535.74 L111.03 535.78 L110.55 535.82 L110.06 535.85 L109.57 535.88 L109.08 535.91 L108.59 535.94 L108.11 535.97 L107.62 535.99 L107.13 536.02 L106.64 536.04 L106.15 536.02 L105.66 535.74 L105.18 535.22 L104.69 534.39 L104.20 533.12Z"/>
<path d="M137.90 528.71 L138.34 527.52 L138.77 526.59 L139.21 525.75 L139.64 524.77 L140.08 523.57 L140.51 522.19 L140.95 520.87 L141.38 520.04 L141.82 520.03 L142.26 520.82 L142.69 522.11 L143.13 523.44 L143.56 524.50 L144.00 525.18 L144.43 525.53 L144.87 525.68 L145.31 525.73 L145.74 525.73 L146.18 525.71 L146.61 525.69 L147.05 525.67 L147.48 525.65 L147.92 525.63 L148.35 525.61 L148.79 525.59 L149.23 525.57 L149.66 525.55 L150.10 525.53 L150.53 525.51 L150.97 525.49 L151.40 525.47 L151.84 525.45 L152.27 525.43 L152.71 525.41 L153.15 525.39 L153.58 525.37 L154.02 525.35 L154.45 525.33 L154.89 525.31 L155.32 525.29 L155.76 525.27 L156.19 525.25 L156.63 525.23 L157.07 525.21 L157.50 525.18 L157.94 525.16 L158.37 525.14 L158.81 525.12 L159.24 525.08 L159.68 525.01 L160.12 524.90 L160.55 524.73 L160.99 524.52 L161.42 524.31 L161.86 524.27 L162.29 524.49 L162.73 524.99 L163.16 525.79 L163.60 526.83 L163.60 530.51 L163.16 531.47 L162.73 532.16 L162.29 532.62 L161.86 532.91 L161.42 533.06 L160.99 533.13 L160.55 533.19 L160.12 533.26 L159.68 533.33 L159.24 533.39 L158.81 533.46 L158.37 533.52 L157.94 533.59 L157.50 533.65 L157.07 533.71 L156.63 533.77 L156.19 533.83 L155.76 533.89 L155.32 533.95 L154.89 534.01 L154.45 534.06 L154.02 534.12 L153.58 534.18 L153.15 534.23 L152.71 534.28 L152.27 534.33 L151.84 534.39 L151.40 534.44 L150.97 534.49 L150.53 534.53 L150.10 534.58 L149.66 534.63 L149.23 534.67 L148.79 534.72 L148.35 534.76 L147.92 534.80 L147.48 534.84 L147.05 534.88 L146.61 534.92 L146.18 534.96 L145.74 535.00 L145.31 535.03 L144.87 535.07 L144.43 535.10 L144.00 535.13 L143.56 535.16 L143.13 535.19 L142.69 535.22 L142.26 535.24 L141.82 535.27 L141.38 535.29 L140.95 535.31 L140.51 535.33 L140.08 535.35 L139.64 535.27 L139.21 535.02 L138.77 534.60 L138.34 533.86 L137.90 532.77Z"/>
<path d="M173.70 530.14 L174.18 528.80 L174.67 527.89 L175.15 527.36 L175.64 527.13 L176.12 527.16 L176.61 527.26 L177.09 527.38 L177.58 527.50 L178.06 527.58 L178.55 527.64 L179.03 527.67 L179.52 527.69 L180.00 527.70 L180.49 527.70 L180.97 527.70 L181.46 527.70 L181.94 527.70 L182.43 527.70 L182.91 527.70 L183.39 527.70 L183.88 527.70 L184.36 527.70 L184.85 527.70 L185.33 527.70 L185.82 527.70 L186.30 527.70 L186.79 527.70 L187.27 527.70 L187.76 527.70 L188.24 527.70 L188.73 527.70 L189.21 527.70 L189.70 527.70 L190.18 527.70 L190.67 527.70 L191.15 527.70 L191.64 527.70 L192.12 527.70 L192.61 527.70 L193.09 527.70 L193.57 527.70 L194.06 527.70 L194.54 527.70 L195.03 527.70 L195.51 527.70 L196.00 527.70 L196.48 527.70 L196.97 527.70 L197.45 527.70 L197.94 527.70 L198.42 527.70 L198.91 527.70 L199.39 527.70 L199.88 527.70 L200.36 527.73 L200.85 527.92 L201.33 528.32 L201.82 529.06 L202.30 530.25 L202.30 534.25 L201.82 535.44 L201.33 536.18 L200.85 536.58 L200.36 536.77 L199.88 536.80 L199.39 536.80 L198.91 536.80 L198.42 536.80 L197.94 536.80 L197.45 536.80 L196.97 536.80 L196.48 536.80 L196.00 536.80 L195.51 536.80 L195.03 536.80 L194.54 536.80 L194.06 536.80 L193.57 536.80 L193.09 536.80 L192.61 536.80 L192.12 536.80 L191.64 536.80 L191.15 536.80 L190.67 536.80 L190.18 536.80 L189.70 536.80 L189.21 536.80 L188.73 536.80 L188.24 536.80 L187.76 536.80 L187.27 536.80 L186.79 536.80 L186.30 536.80 L185.82 536.80 L185.33 536.80 L184.85 536.80 L184.36 536.80 L183.88 536.80 L183.39 536.80 L182.91 536.80 L182.43 536.80 L181.94 536.80 L181.46 536.80 L180.97 536.80 L180.49 536.80 L180.00 536.80 L179.52 536.81 L179.03 536.82 L178.55 536.84 L178.06 536.88 L177.58 536.94 L177.09 537.01 L176.61 537.09 L176.12 537.16 L175.64 537.17 L175.15 536.94 L174.67 536.44 L174.18 535.57 L173.70 534.27Z"/>
<path d="M207.20 529.06 L207.63 526.70 L208.06 524.58 L208.49 523.03 L208.92 522.18 L209.35 522.12 L209.78 522.70 L210.21 523.60 L210.64 524.65 L211.07 525.67 L211.51 526.53 L211.94 527.19 L212.37 527.63 L212.80 527.89 L213.23 528.03 L213.66 528.09 L214.09 528.11 L214.52 528.10 L214.95 528.08 L215.38 528.05 L215.81 528.02 L216.24 527.99 L216.67 527.97 L217.10 527.94 L217.53 527.91 L217.96 527.88 L218.39 527.85 L218.82 527.82 L219.25 527.79 L219.68 527.76 L220.12 527.74 L220.55 527.71 L220.98 527.68 L221.41 527.65 L221.84 527.62 L222.27 527.59 L222.70 527.56 L223.13 527.53 L223.56 527.51 L223.99 527.48 L224.42 527.45 L224.85 527.42 L225.28 527.39 L225.71 527.36 L226.14 527.33 L226.57 527.30 L227.00 527.27 L227.43 527.23 L227.86 527.18 L228.29 527.10 L228.73 527.00 L229.16 526.85 L229.59 526.67 L230.02 526.48 L230.45 526.32 L230.88 526.31 L231.31 526.54 L231.74 527.03 L232.17 527.85 L232.60 528.97 L232.60 532.86 L232.17 533.88 L231.74 534.59 L231.31 535.04 L230.88 535.30 L230.45 535.40 L230.02 535.43 L229.59 535.45 L229.16 535.47 L228.73 535.49 L228.29 535.51 L227.86 535.52 L227.43 535.54 L227.00 535.56 L226.57 535.58 L226.14 535.60 L225.71 535.62 L225.28 535.64 L224.85 535.65 L224.42 535.67 L223.99 535.69 L223.56 535.70 L223.13 535.72 L222.70 535.74 L222.27 535.75 L221.84 535.77 L221.41 535.78 L220.98 535.80 L220.55 535.81 L220.12 535.83 L219.68 535.84 L219.25 535.86 L218.82 535.87 L218.39 535.88 L217.96 535.90 L217.53 535.91 L217.10 535.92 L216.67 535.93 L216.24 535.95 L215.81 535.96 L215.38 535.97 L214.95 535.98 L214.52 536.00 L214.09 536.02 L213.66 536.05 L213.23 536.11 L212.80 536.21 L212.37 536.37 L211.94 536.64 L211.51 537.01 L211.07 537.50 L210.64 538.07 L210.21 538.66 L209.78 539.16 L209.35 539.49 L208.92 539.40 L208.49 538.73 L208.06 537.56 L207.63 535.94 L207.20 534.11Z"/>
<path d="M245.20 528.54 L245.63 527.39 L246.05 526.71 L246.48 526.50 L246.91 526.61 L247.34 526.90 L247.76 527.23 L248.19 527.49 L248.62 527.65 L249.04 527.75 L249.47 527.81 L249.90 527.84 L250.33 527.86 L250.75 527.88 L251.18 527.89 L251.61 527.90 L252.03 527.92 L252.46 527.93 L252.89 527.94 L253.32 527.96 L253.74 527.97 L254.17 527.98 L254.60 528.00 L255.02 528.01 L255.45 528.03 L255.88 528.04 L256.31 528.05 L256.73 528.07 L257.16 528.08 L257.59 528.09 L258.01 528.11 L258.44 528.12 L258.87 528.13 L259.29 528.15 L259.72 528.16 L260.15 528.17 L260.58 528.19 L261.00 528.20 L261.43 528.22 L261.86 528.23 L262.28 528.24 L262.71 528.26 L263.14 528.27 L263.57 528.28 L263.99 528.30 L264.42 528.31 L264.85 528.32 L265.27 528.34 L265.70 528.35 L266.13 528.36 L266.56 528.38 L266.98 528.39 L267.41 528.41 L267.84 528.42 L268.26 528.43 L268.69 528.52 L269.12 528.75 L269.55 529.13 L269.97 529.78 L270.40 530.74 L270.40 534.46 L269.97 535.35 L269.55 535.94 L269.12 536.27 L268.69 536.43 L268.26 536.46 L267.84 536.42 L267.41 536.37 L266.98 536.33 L266.56 536.28 L266.13 536.24 L265.70 536.19 L265.27 536.15 L264.85 536.11 L264.42 536.07 L263.99 536.03 L263.57 535.99 L263.14 535.94 L262.71 535.91 L262.28 535.87 L261.86 535.83 L261.43 535.79 L261.00 535.75 L260.58 535.72 L260.15 535.68 L259.72 535.65 L259.29 535.61 L258.87 535.58 L258.44 535.54 L258.01 535.51 L257.59 535.48 L257.16 535.45 L256.73 535.42 L256.31 535.39 L255.88 535.36 L255.45 535.33 L255.02 535.30 L254.60 535.27 L254.17 535.24 L253.74 535.22 L253.32 535.19 L252.89 535.17 L252.46 535.15 L252.03 535.12 L251.61 535.10 L251.18 535.08 L250.75 535.06 L250.33 535.04 L249.90 535.02 L249.47 535.01 L249.04 534.99 L248.62 534.97 L248.19 534.96 L247.76 534.95 L247.34 534.93 L246.91 534.84 L246.48 534.60 L246.05 534.16 L245.63 533.44 L245.20 532.45Z"/>
<path d="M276.80 531.30 L277.27 530.31 L277.73 529.68 L278.20 529.32 L278.66 529.14 L279.13 529.10 L279.60 529.10 L280.06 529.10 L280.53 529.10 L280.99 529.10 L281.46 529.10 L281.93 529.10 L282.39 529.10 L282.86 529.10 L283.33 529.10 L283.79 529.10 L284.26 529.10 L284.72 529.10 L285.19 529.10 L285.66 529.10 L286.12 529.10 L286.59 529.10 L287.05 529.10 L287.52 529.10 L287.99 529.10 L288.45 529.10 L288.92 529.10 L289.38 529.10 L289.85 529.10 L290.32 529.10 L290.78 529.10 L291.25 529.10 L291.72 529.10 L292.18 529.10 L292.65 529.10 L293.11 529.10 L293.58 529.10 L294.05 529.10 L294.51 529.10 L294.98 529.10 L295.44 529.10 L295.91 529.10 L296.38 529.10 L296.84 529.10 L297.31 529.10 L297.77 529.10 L298.24 529.10 L298.71 529.10 L299.17 529.10 L299.64 529.10 L300.11 529.10 L300.57 529.10 L301.04 529.10 L301.50 529.10 L301.97 529.10 L302.44 529.14 L302.90 529.32 L303.37 529.68 L303.83 530.31 L304.30 531.30 L304.30 535.00 L303.83 535.99 L303.37 536.62 L302.90 536.98 L302.44 537.16 L301.97 537.20 L301.50 537.20 L301.04 537.20 L300.57 537.20 L300.11 537.20 L299.64 537.20 L299.17 537.20 L298.71 537.20 L298.24 537.20 L297.77 537.20 L297.31 537.20 L296.84 537.20 L296.38 537.20 L295.91 537.20 L295.44 537.20 L294.98 537.20 L294.51 537.20 L294.05 537.20 L293.58 537.20 L293.11 537.20 L292.65 537.20 L292.18 537.20 L291.72 537.20 L291.25 537.20 L290.78 537.20 L290.32 537.20 L289.85 537.20 L289.38 537.20 L288.92 537.20 L288.45 537.20 L287.99 537.20 L287.52 537.20 L287.05 537.20 L286.59 537.20 L286.12 537.20 L285.66 537.20 L285.19 537.20 L284.72 537.20 L284.26 537.20 L283.79 537.20 L283.33 537.20 L282.86 537.20 L282.39 537.20 L281.93 537.20 L281.46 537.20 L280.99 537.20 L280.53 537.20 L280.06 537.20 L279.60 537.20 L279.13 537.20 L278.66 537.16 L278.20 536.98 L277.73 536.62 L277.27 535.99 L276.80 535.00Z"/>
<path d="M312.40 528.55 L312.85 527.33 L313.31 526.56 L313.76 526.26 L314.22 526.32 L314.67 526.58 L315.13 526.83 L315.58 526.98 L316.03 527.06 L316.49 527.09 L316.94 527.10 L317.40 527.10 L317.85 527.10 L318.31 527.10 L318.76 527.10 L319.21 527.10 L319.67 527.10 L320.12 527.10 L320.58 527.10 L321.03 527.10 L321.48 527.10 L321.94 527.10 L322.39 527.10 L322.85 527.10 L323.30 527.10 L323.76 527.10 L324.21 527.10 L324.66 527.10 L325.12 527.10 L325.57 527.10 L326.03 527.10 L326.48 527.10 L326.94 527.10 L327.39 527.10 L327.84 527.10 L328.30 527.10 L328.75 527.10 L329.21 527.10 L329.66 527.09 L330.12 527.06 L330.57 527.00 L331.02 526.86 L331.48 526.56 L331.93 526.01 L332.39 525.12 L332.84 523.84 L333.29 522.28 L333.75 520.65 L334.20 519.32 L334.66 518.64 L335.11 518.80 L335.57 519.76 L336.02 521.24 L336.47 522.88 L336.93 524.36 L337.38 525.56 L337.84 526.53 L338.29 527.33 L338.75 528.18 L339.20 529.23 L339.20 532.92 L338.75 533.88 L338.29 534.54 L337.84 535.01 L337.38 535.40 L336.93 535.74 L336.47 536.11 L336.02 536.52 L335.57 536.90 L335.11 537.13 L334.66 537.16 L334.20 536.97 L333.75 536.62 L333.29 536.18 L332.84 535.77 L332.39 535.43 L331.93 535.18 L331.48 535.03 L331.02 534.94 L330.57 534.89 L330.12 534.87 L329.66 534.85 L329.21 534.84 L328.75 534.83 L328.30 534.82 L327.84 534.81 L327.39 534.80 L326.94 534.79 L326.48 534.78 L326.03 534.77 L325.57 534.76 L325.12 534.75 L324.66 534.74 L324.21 534.73 L323.76 534.73 L323.30 534.72 L322.85 534.71 L322.39 534.70 L321.94 534.70 L321.48 534.69 L321.03 534.68 L320.58 534.67 L320.12 534.67 L319.67 534.66 L319.21 534.66 L318.76 534.65 L318.31 534.64 L317.85 534.64 L317.40 534.63 L316.94 534.63 L316.49 534.62 L316.03 534.62 L315.58 534.62 L315.13 534.61 L314.67 534.61 L314.22 534.56 L313.76 534.35 L313.31 533.94 L312.85 533.27 L312.40 532.31Z"/>
<path d="M343.60 527.57 L344.08 526.25 L344.55 525.47 L345.03 525.35 L345.51 525.72 L345.98 526.27 L346.46 526.70 L346.93 526.94 L347.41 527.05 L347.89 527.09 L348.36 527.10 L348.84 527.10 L349.32 527.10 L349.79 527.10 L350.27 527.10 L350.74 527.10 L351.22 527.10 L351.70 527.10 L352.17 527.10 L352.65 527.10 L353.13 527.10 L353.60 527.10 L354.08 527.10 L354.55 527.10 L355.03 527.10 L355.51 527.10 L355.98 527.10 L356.46 527.10 L356.94 527.10 L357.41 527.10 L357.89 527.10 L358.36 527.10 L358.84 527.10 L359.32 527.10 L359.79 527.10 L360.27 527.10 L360.75 527.10 L361.22 527.10 L361.70 527.10 L362.17 527.09 L362.65 527.08 L363.13 527.06 L363.60 527.03 L364.08 526.96 L364.56 526.86 L365.03 526.71 L365.51 526.51 L365.98 526.26 L366.46 526.00 L366.94 525.76 L367.41 525.59 L367.89 525.50 L368.37 525.53 L368.84 525.67 L369.32 525.89 L369.79 526.18 L370.27 526.63 L370.75 527.24 L371.22 528.11 L371.70 529.33 L371.70 533.19 L371.22 534.22 L370.75 534.84 L370.27 535.17 L369.79 535.30 L369.32 535.27 L368.84 535.21 L368.37 535.14 L367.89 535.08 L367.41 535.02 L366.94 534.96 L366.46 534.90 L365.98 534.84 L365.51 534.78 L365.03 534.72 L364.56 534.66 L364.08 534.61 L363.60 534.55 L363.13 534.50 L362.65 534.44 L362.17 534.39 L361.70 534.34 L361.22 534.28 L360.75 534.23 L360.27 534.18 L359.79 534.14 L359.32 534.09 L358.84 534.04 L358.36 533.99 L357.89 533.95 L357.41 533.90 L356.94 533.86 L356.46 533.82 L355.98 533.77 L355.51 533.73 L355.03 533.69 L354.55 533.65 L354.08 533.62 L353.60 533.58 L353.13 533.54 L352.65 533.51 L352.17 533.47 L351.70 533.44 L351.22 533.41 L350.74 533.38 L350.27 533.35 L349.79 533.32 L349.32 533.30 L348.84 533.27 L348.36 533.25 L347.89 533.22 L347.41 533.20 L346.93 533.18 L346.46 533.16 L345.98 533.15 L345.51 533.11 L345.03 532.93 L344.55 532.55 L344.08 531.92 L343.60 531.09Z"/>
</g>
</svg></body></html>
